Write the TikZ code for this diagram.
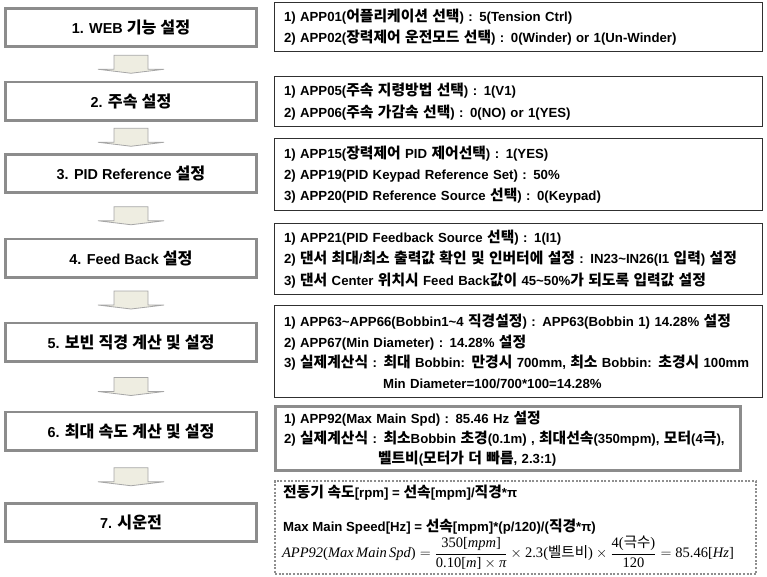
\documentclass[tikz,border=0pt]{standalone}
\usepackage{fontspec}
\setmainfont{Liberation Sans}
\newfontfamily\latinfam{Liberation Sans}
\newcommand\latinfont{\latinfam\bfseries}
\newfontfamily\krfont{Noto Sans CJK KR Bold}[Scale=1.12]
\newfontfamily\krl{Noto Sans CJK KR}
\newfontfamily\tnr{Liberation Serif}
% switch to the Korean font for Hangul syllables
\XeTeXinterchartokenstate=1
\newXeTeXintercharclass\hangulclass
\count255="AC00
\loop
  \XeTeXcharclass\count255=\hangulclass
  \ifnum\count255<"D7A3 \advance\count255 by 1
\repeat
\XeTeXinterchartoks 0 \hangulclass = {\krfont}
\XeTeXinterchartoks 4095 \hangulclass = {\krfont}
\XeTeXinterchartoks \hangulclass 0 = {\latinfont}
\XeTeXinterchartoks \hangulclass 4095 = {\latinfont}
\newcommand\nointerchar{\XeTeXinterchartokenstate=0\relax}
\usetikzlibrary{calc}
\definecolor{boxgray}{HTML}{8C8C8C}
\definecolor{arrowfill}{HTML}{EEEDE1}
\definecolor{arrowline}{HTML}{A6A6A6}
\definecolor{dotgray}{HTML}{8E8E8E}
\definecolor{thinline}{HTML}{303030}
\tikzset{
  lbox/.style={draw=boxgray, line width=2.7pt, fill=white, minimum width=251.3, minimum height=38.3,
    inner sep=0pt, font=\fontsize{14.4}{17}\selectfont\latinfont},
  rbox/.style={draw=thinline, line width=1.1pt, align=left, inner xsep=9.5pt, inner ysep=0pt,
    font=\fontsize{13.2}{21.3}\selectfont\latinfont},
  rboxthick/.style={draw=boxgray, line width=2.7pt, align=left, inner xsep=8.5pt, inner ysep=0pt,
    font=\fontsize{13.2}{19.8}\selectfont\latinfont},
  dotbox/.style={draw=dotgray, line width=2.2pt, dash pattern=on 2pt off 1.6pt, minimum width=481, minimum height=93, inner sep=0pt},
  barrow/.style={draw=arrowline, line width=0.8pt, fill=arrowfill, line join=miter},
  txt/.style={anchor=west, inner sep=0pt, font=\fontsize{13.2}{15}\selectfont\latinfont},
}
\newcommand\blockarrow[2]{%
  \draw[barrow] let \p1=($(#1.south)!0.5!(#2.north)$) in
    (\x1-17pt,\y1+9pt) -- (\x1+17pt,\y1+9pt) -- (\x1+17pt,\y1-5pt) -- (\x1+33pt,\y1-5pt)
    -- (\x1,\y1-9pt) -- (\x1-33pt,\y1-5pt) -- (\x1-17pt,\y1-5pt) -- cycle;}
\begin{document}
\begin{tikzpicture}[x=1pt,y=-1pt]
\useasboundingbox (0,0) rectangle (767,576);
% left boxes
\node[lbox] (b1) at (131,27.5) {1. WEB 기능 설정};
\node[lbox] (b2) at (131,101) {2. 주속 설정};
\node[lbox] (b3) at (131,173.5) {3. PID Reference 설정};
\node[lbox] (b4) at (131,258) {4. Feed Back 설정};
\node[lbox] (b5) at (131,342) {5. 보빈 직경 계산 및 설정};
\node[lbox] (b6) at (131,431) {6. 최대 속도 계산 및 설정};
\node[lbox] (b7) at (131,522.5) {7. 시운전};
\blockarrow{b1}{b2}
\blockarrow{b2}{b3}
\blockarrow{b3}{b4}
\blockarrow{b4}{b5}
\blockarrow{b5}{b6}
\blockarrow{b6}{b7}
% right boxes
\node[rbox, text width=469, minimum height=49] (r1) at (518.5,27) {%
1) APP01(어플리케이션 선택) : 5(Tension Ctrl)\\
\mbox{2) APP02(장력제어 운전모드 선택) : 0(Winder) or 1(Un-Winder)}};
\node[rbox, text width=469, minimum height=50] (r2) at (518.5,101.5) {%
1) APP05(주속 지령방법 선택) : 1(V1)\\
2) APP06(주속 가감속 선택) : 0(NO) or 1(YES)};
\node[rbox, text width=469, minimum height=72] (r3) at (518.5,174.5) {%
1) APP15(장력제어 PID 제어선택) : 1(YES)\\
2) APP19(PID Keypad Reference Set) : 50\%\\
3) APP20(PID Reference Source 선택) : 0(Keypad)};
\node[rbox, text width=469, minimum height=71] (r4) at (518.5,259) {%
1) APP21(PID Feedback Source 선택) : 1(I1)\\
\mbox{2) 댄서 최대/최소 출력값 확인 및 인버터에 설정 : IN23\textasciitilde IN26(I1 입력) 설정}\\
\mbox{3) 댄서 Center 위치시 Feed Back값이 45\textasciitilde 50\%가 되도록 입력값 설정}};
\node[rbox, text width=469, minimum height=92, font=\fontsize{13.2}{20.7}\selectfont\latinfont] (r5) at (518.5,351.5) {%
\mbox{1) APP63\textasciitilde APP66(Bobbin1\textasciitilde 4 직경설정) : APP63(Bobbin 1) 14.28\% 설정}\\
2) APP67(Min Diameter) : 14.28\% 설정\\
\mbox{3) 실제계산식 : 최대 Bobbin: 만경시 700mm, 최소 Bobbin: 초경시 100mm}\\
\hspace*{99pt}Min Diameter=100/700*100=14.28\%};
\node[rboxthick, text width=448, minimum height=64.3] (r6) at (508,438.5) {%
1) APP92(Max Main Spd) : 85.46 Hz 설정\\
\mbox{2) 실제계산식 : 최소Bobbin 초경(0.1m) , 최대선속(350mpm), 모터(4극),}\\
\hspace*{94pt}벨트비(모터가 더 빠름, 2.3:1)};
\node[dotbox] (r7) at (515.5,527.5) {};
\node[txt] (t1) at ([xshift=9pt]r7.west |- 0,493) {전동기 속도[rpm] = 선속[mpm]/직경*π};
\node[txt] (t2) at ([xshift=9pt]r7.west |- 0,527) {Max Main Speed[Hz] = 선속[mpm]*(p/120)/(직경*π)};
\node[anchor=west, inner sep=0pt, font=\fontsize{14.5}{16}\selectfont] (t3) at ([xshift=8pt]r7.west |- 0,553) {\nointerchar
$\mbox{\tnr\itshape APP92}\mbox{\tnr(}\mbox{\tnr\itshape Max\,Main\,Spd}\mbox{\tnr)} =
\displaystyle\frac{\mbox{\tnr 350[\itshape mpm\upshape]}}{\mbox{\tnr 0.10[\itshape m\upshape]}\times\mbox{\tnr\itshape π}}
\times \mbox{\tnr 2.3(}\mbox{\krl 벨트비}\mbox{\tnr)} \times
\frac{\mbox{\tnr 4(}\mbox{\krl 극수}\mbox{\tnr)}}{\mbox{\tnr 120}} = \mbox{\tnr 85.46[\itshape Hz\upshape]}$};
\end{tikzpicture}
\end{document}
